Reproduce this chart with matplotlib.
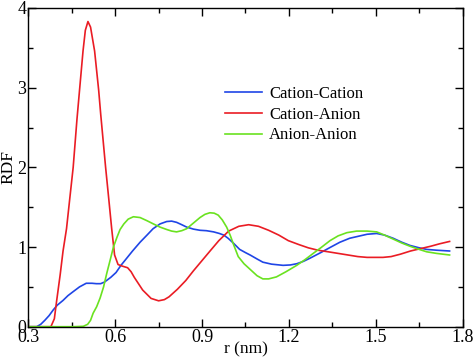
import matplotlib
matplotlib.use("Agg")
import matplotlib.pyplot as plt
from matplotlib.ticker import MultipleLocator

plt.rcParams['font.family'] = ['Liberation Serif', 'DejaVu Serif']
plt.rcParams['mathtext.fontset'] = 'stix'

# ---- data ----
red_r = [0.30, 0.378, 0.39, 0.397, 0.41, 0.42, 0.432, 0.443, 0.455, 0.468, 0.477, 0.489,
         0.497, 0.506, 0.515, 0.529, 0.543, 0.55, 0.567, 0.578, 0.588, 0.598, 0.61, 0.625,
         0.643, 0.655, 0.666, 0.695, 0.724, 0.75, 0.77, 0.786, 0.815, 0.844, 0.87, 0.9,
         0.93, 0.958, 0.992, 1.027, 1.061, 1.095, 1.13, 1.165, 1.198, 1.235, 1.267, 1.3,
         1.336, 1.37, 1.404, 1.438, 1.47, 1.496, 1.525, 1.553, 1.585, 1.62, 1.655, 1.69,
         1.72, 1.755]
red_g = [0, 0, 0.1, 0.3, 0.65, 0.95, 1.23, 1.6, 2.0, 2.6, 2.97, 3.46,
         3.72, 3.83, 3.76, 3.46, 2.97, 2.67, 2.0, 1.6, 1.23, 0.9, 0.78, 0.76,
         0.74, 0.69, 0.62, 0.46, 0.355, 0.325, 0.34, 0.375, 0.47, 0.58, 0.7, 0.83,
         0.96, 1.08, 1.2, 1.26, 1.28, 1.26, 1.21, 1.15, 1.08, 1.03, 0.99, 0.96,
         0.94, 0.92, 0.9, 0.88, 0.87, 0.87, 0.87, 0.88, 0.91, 0.95, 0.98, 1.01,
         1.04, 1.07]

blue_r = [0.30, 0.329, 0.343, 0.357, 0.372, 0.386, 0.40, 0.42, 0.437, 0.455, 0.477, 0.5,
          0.52, 0.535, 0.55, 0.563, 0.585, 0.603, 0.62, 0.64, 0.66, 0.686, 0.71, 0.731,
          0.755, 0.778, 0.795, 0.812, 0.83, 0.847, 0.87, 0.893, 0.915, 0.94, 0.96, 0.975,
          0.99, 1.008, 1.03, 1.05, 1.066, 1.09, 1.11, 1.14, 1.18, 1.205, 1.227, 1.25,
          1.273, 1.31, 1.34, 1.376, 1.41, 1.434, 1.47, 1.503, 1.53, 1.56, 1.59, 1.618,
          1.65, 1.676, 1.71, 1.755]
blue_g = [0, 0, 0.03, 0.08, 0.14, 0.21, 0.27, 0.33, 0.39, 0.44, 0.5, 0.545,
          0.545, 0.54, 0.54, 0.56, 0.62, 0.68, 0.77, 0.86, 0.95, 1.06, 1.15, 1.23,
          1.29, 1.32, 1.325, 1.31, 1.28, 1.25, 1.225, 1.21, 1.205, 1.19, 1.17, 1.15,
          1.11, 1.05, 0.97, 0.93, 0.9, 0.85, 0.81, 0.785, 0.77, 0.775, 0.79, 0.82,
          0.86, 0.93, 0.99, 1.06, 1.11, 1.13, 1.16, 1.17, 1.15, 1.11, 1.06, 1.02,
          0.99, 0.97, 0.96, 0.95]

green_r = [0.30, 0.455, 0.49, 0.505, 0.515, 0.524, 0.536, 0.548, 0.56, 0.571, 0.583, 0.594,
           0.606, 0.617, 0.63, 0.645, 0.663, 0.686, 0.71, 0.732, 0.755, 0.778, 0.795, 0.812,
           0.83, 0.847, 0.87, 0.893, 0.91, 0.927, 0.942, 0.956, 0.97, 0.985, 0.997, 1.008,
           1.025, 1.045, 1.066, 1.09, 1.11, 1.13, 1.157, 1.19, 1.227, 1.255, 1.284, 1.31,
           1.342, 1.37, 1.4, 1.434, 1.47, 1.503, 1.53, 1.56, 1.59, 1.618, 1.65, 1.676,
           1.71, 1.755]
green_g = [0, 0, 0.005, 0.03, 0.08, 0.17, 0.25, 0.36, 0.5, 0.67, 0.84, 1.0,
           1.12, 1.22, 1.29, 1.35, 1.38, 1.37, 1.33, 1.29, 1.25, 1.22, 1.2, 1.19,
           1.205, 1.23, 1.3, 1.37, 1.41, 1.43, 1.425, 1.4, 1.34, 1.25, 1.15, 1.04,
           0.88, 0.79, 0.72, 0.64, 0.6, 0.6, 0.625, 0.69, 0.77, 0.84, 0.92, 0.99,
           1.08, 1.14, 1.18, 1.2, 1.2, 1.19, 1.15, 1.1, 1.05, 1.01, 0.97, 0.94,
           0.92, 0.9]

labels = ["Cation-Cation", "Cation-Anion", "Anion-Anion"]
x_ticks = [0.3, 0.6, 0.9, 1.2, 1.5, 1.8]
y_ticks = [0, 1, 2, 3, 4]

# ---- figure ----
fig = plt.figure(figsize=(4.74, 3.63), dpi=100)
ax = fig.add_axes([0.0597, 0.100, 0.9163, 0.878])

lw = 1.2
ax.plot(blue_r, blue_g, color='#1f45e6', lw=lw, label=labels[0])
ax.plot(red_r, red_g, color='#ea1c24', lw=lw, label=labels[1])
ax.plot(green_r, green_g, color='#6ae220', lw=lw, label=labels[2])

ax.set_xlim(0.3, 1.8)
ax.set_ylim(0, 4)
ax.set_xticks(x_ticks)
ax.set_xticklabels([f"{v:.1f}" for v in x_ticks])
ax.set_yticks(y_ticks)
ax.xaxis.set_minor_locator(MultipleLocator(0.15))
ax.yaxis.set_minor_locator(MultipleLocator(0.5))
ax.tick_params(which='both', direction='in', top=True, right=True, labelsize=13, width=1.0)
ax.tick_params(which='major', length=6)
ax.tick_params(axis='x', which='major', pad=2)
ax.tick_params(axis='y', which='major', pad=1.5)
ax.tick_params(which='minor', length=3.5)
for s in ax.spines.values():
    s.set_linewidth(1.0)

ax.set_xlabel("r (nm)", fontsize=12.5)
ax.xaxis.set_label_coords(0.5, -0.046)
ax.set_ylabel("RDF", fontsize=12.5)
ax.yaxis.set_label_coords(-0.027, 0.5)

leg = ax.legend(loc='upper left', bbox_to_anchor=(225 / 474, 1 - 86 / 363),
                bbox_transform=fig.transFigure, frameon=False, fontsize=12,
                handlelength=2.2, handletextpad=0.45, labelspacing=0.28,
                borderpad=0, borderaxespad=0)

fig.savefig("out.png", dpi=100)
